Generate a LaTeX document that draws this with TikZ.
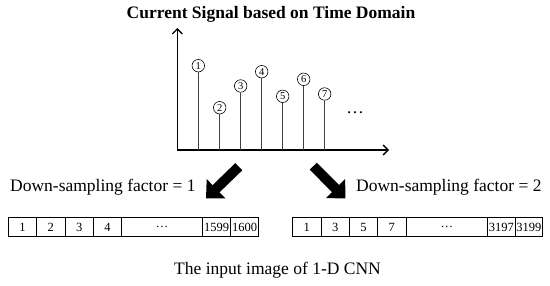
\documentclass[tikz,border=0pt]{standalone}
\usepackage{fontspec}
\setmainfont{Liberation Serif}
\usetikzlibrary{arrows.meta}
\begin{document}
\begin{tikzpicture}[x=1pt,y=-1pt,
  bigtext/.style={font=\fontsize{17.5}{20}\selectfont, inner sep=0pt},
  cell/.style={draw, line width=0.8pt, minimum height=18.5pt, inner sep=0pt, font=\fontsize{12.5}{14}\selectfont},
  numc/.style={draw, circle, line width=0.6pt, minimum size=12.5pt, inner sep=0pt, font=\fontsize{10.5}{12}\selectfont},
  stem/.style={line width=0.7pt, draw=black!75},
  axis/.style={line width=1.5pt, -{Straight Barb[length=5pt,width=10pt,line width=1.3pt]}},
  fatarrow/.style={line width=10pt, -{Triangle[length=14pt,width=26pt]}}]
\useasboundingbox (0,0) rectangle (550,286);
% title
\node[bigtext, font=\fontsize{17.5}{20}\selectfont\bfseries, anchor=base] (title) at (271,18.3) {Current Signal based on Time Domain};
% axes
\coordinate (o) at (177.3,150);
\coordinate (ytop) at (177.3,28);
\coordinate (xend) at (389,150);
\draw[axis] (o) -- (ytop);
\draw[axis] (o) -- (xend);
% stems with circled numbers
\foreach \i/\x/\y in {1/198.3/65.7, 2/219.7/107.7, 3/240.7/86, 4/261.7/71.7, 5/282.7/96.3, 6/303.7/79.3, 7/324.7/94}{
  \node[numc] (c\i) at (\x,\y) {\i};
  \coordinate (b\i) at (\x,150);
  \draw[stem] (c\i.south) -- (b\i);
}
\node[font=\fontsize{17.5}{20}\selectfont, inner sep=0pt, anchor=base] (gdots) at (355,114) {\dots};
% fat arrows
\coordinate (lt) at (238.8,166.7);
\coordinate (lh) at (206,198.5);
\coordinate (rt) at (313.3,166.2);
\coordinate (rh) at (345.5,198.5);
\draw[fatarrow] (lt) -- (lh);
\draw[fatarrow] (rt) -- (rh);
% labels
\node[bigtext, anchor=base west] (lab1) at (10,191.5) {Down-sampling factor = 1};
\node[bigtext, anchor=base west] (lab2) at (356,191.5) {Down-sampling factor = 2};
% left row
\foreach \n/\a/\b/\t in {l1/8.3/36.7/1, l2/36.7/65/2, l3/65/93.3/3, l4/93.3/121.7/4, l5/121.7/202.3/\dots, l6/202.3/230.7/1599, l7/230.7/258.3/1600}{
  \pgfmathsetmacro{\w}{\b-\a}
  \pgfmathsetmacro{\c}{(\a+\b)/2}
  \node[cell, minimum width=\w pt] (\n) at (\c,227) {\t};
}
% right row
\foreach \n/\a/\b/\t in {r1/292.7/321/1, r2/321/349.3/3, r3/349.3/377.7/5, r4/377.7/406/7, r5/406/487.7/\dots, r6/487.7/515/3197, r7/515/542.7/3199}{
  \pgfmathsetmacro{\w}{\b-\a}
  \pgfmathsetmacro{\c}{(\a+\b)/2}
  \node[cell, minimum width=\w pt] (\n) at (\c,227) {\t};
}
% caption
\node[bigtext, anchor=base] (cap) at (277.5,275) {The input image of 1-D CNN};
\end{tikzpicture}
\end{document}
